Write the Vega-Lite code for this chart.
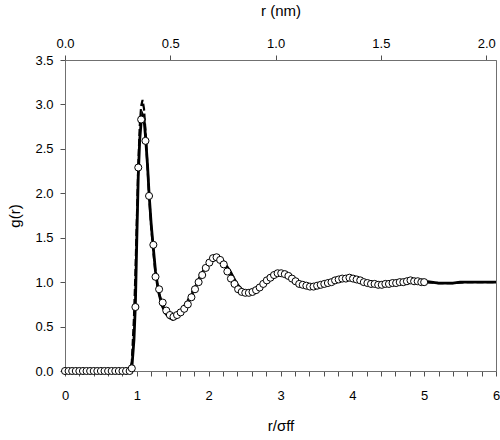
{
  "$schema": "https://vega.github.io/schema/vega-lite/v6.json",
  "width": 431,
  "height": 311,
  "autosize": {"type": "none"},
  "padding": {"left": 65, "top": 60, "right": 4, "bottom": 69},
  "config": {
    "font": "Liberation Sans",
    "view": {"stroke": "#707070", "strokeWidth": 1},
    "axis": {
      "grid": false,
      "domainColor": "#707070",
      "tickColor": "#505050",
      "labelColor": "#000000",
      "titleColor": "#000000",
      "labelFontSize": 13,
      "titleFontSize": 15,
      "titleFontWeight": "normal",
      "tickSize": 5,
      "labelFlush": false,
      "labelOverlap": false
    }
  },
  "datasets": {
    "circles": [
      {"r": 0, "g": 0}, {"r": 0.05, "g": 0}, {"r": 0.1, "g": 0}, {"r": 0.15, "g": 0}, {"r": 0.2, "g": 0},
      {"r": 0.25, "g": 0}, {"r": 0.3, "g": 0}, {"r": 0.35, "g": 0}, {"r": 0.4, "g": 0}, {"r": 0.45, "g": 0},
      {"r": 0.5, "g": 0}, {"r": 0.55, "g": 0}, {"r": 0.6, "g": 0}, {"r": 0.65, "g": 0}, {"r": 0.7, "g": 0},
      {"r": 0.75, "g": 0}, {"r": 0.8, "g": 0}, {"r": 0.85, "g": 0}, {"r": 0.9, "g": 0}, {"r": 0.93, "g": 0.03},
      {"r": 0.98, "g": 0.72}, {"r": 1.02, "g": 2.29}, {"r": 1.06, "g": 2.83}, {"r": 1.12, "g": 2.59},
      {"r": 1.17, "g": 1.97}, {"r": 1.23, "g": 1.42}, {"r": 1.26, "g": 1.06}, {"r": 1.31, "g": 0.92},
      {"r": 1.36, "g": 0.77}, {"r": 1.41, "g": 0.68}, {"r": 1.46, "g": 0.63}, {"r": 1.51, "g": 0.61},
      {"r": 1.56, "g": 0.63}, {"r": 1.61, "g": 0.66}, {"r": 1.66, "g": 0.7}, {"r": 1.71, "g": 0.75},
      {"r": 1.76, "g": 0.83}, {"r": 1.81, "g": 0.92}, {"r": 1.86, "g": 1.0}, {"r": 1.91, "g": 1.08},
      {"r": 1.96, "g": 1.16}, {"r": 2.01, "g": 1.22}, {"r": 2.06, "g": 1.27}, {"r": 2.11, "g": 1.28},
      {"r": 2.16, "g": 1.25}, {"r": 2.21, "g": 1.2}, {"r": 2.26, "g": 1.12}, {"r": 2.31, "g": 1.04},
      {"r": 2.36, "g": 0.98}, {"r": 2.41, "g": 0.92}, {"r": 2.46, "g": 0.89}, {"r": 2.51, "g": 0.88},
      {"r": 2.56, "g": 0.88}, {"r": 2.61, "g": 0.89}, {"r": 2.66, "g": 0.91}, {"r": 2.71, "g": 0.94},
      {"r": 2.76, "g": 0.98}, {"r": 2.81, "g": 1.02}, {"r": 2.86, "g": 1.05}, {"r": 2.91, "g": 1.08},
      {"r": 2.96, "g": 1.1}, {"r": 3.01, "g": 1.1}, {"r": 3.06, "g": 1.09}, {"r": 3.11, "g": 1.07},
      {"r": 3.16, "g": 1.04}, {"r": 3.21, "g": 1.01}, {"r": 3.26, "g": 0.98}, {"r": 3.31, "g": 0.97},
      {"r": 3.36, "g": 0.96}, {"r": 3.41, "g": 0.95}, {"r": 3.46, "g": 0.95}, {"r": 3.51, "g": 0.96},
      {"r": 3.56, "g": 0.97}, {"r": 3.61, "g": 0.98}, {"r": 3.66, "g": 0.99}, {"r": 3.71, "g": 1.0},
      {"r": 3.76, "g": 1.02}, {"r": 3.81, "g": 1.03}, {"r": 3.86, "g": 1.04}, {"r": 3.91, "g": 1.04},
      {"r": 3.96, "g": 1.05}, {"r": 4.01, "g": 1.04}, {"r": 4.06, "g": 1.03}, {"r": 4.11, "g": 1.02},
      {"r": 4.16, "g": 1.0}, {"r": 4.21, "g": 0.99}, {"r": 4.26, "g": 0.98}, {"r": 4.31, "g": 0.98},
      {"r": 4.36, "g": 0.97}, {"r": 4.41, "g": 0.97}, {"r": 4.46, "g": 0.98}, {"r": 4.51, "g": 0.98},
      {"r": 4.56, "g": 0.99}, {"r": 4.61, "g": 0.99}, {"r": 4.66, "g": 1.0}, {"r": 4.71, "g": 1.0},
      {"r": 4.76, "g": 1.01}, {"r": 4.81, "g": 1.02}, {"r": 4.86, "g": 1.01}, {"r": 4.91, "g": 1.01},
      {"r": 4.96, "g": 1.0}, {"r": 5.0, "g": 1.0}
    ],
    "solid": [
      {"r": 0, "g": 0}, {"r": 0.9, "g": 0}, {"r": 0.93, "g": 0.03}, {"r": 0.96, "g": 0.35},
      {"r": 0.98, "g": 0.75}, {"r": 1.0, "g": 1.5}, {"r": 1.02, "g": 2.2}, {"r": 1.04, "g": 2.6},
      {"r": 1.06, "g": 2.8}, {"r": 1.08, "g": 2.88}, {"r": 1.1, "g": 2.84}, {"r": 1.12, "g": 2.65},
      {"r": 1.15, "g": 2.3}, {"r": 1.17, "g": 2.0}, {"r": 1.2, "g": 1.65}, {"r": 1.23, "g": 1.38},
      {"r": 1.26, "g": 1.12}, {"r": 1.3, "g": 0.9}, {"r": 1.35, "g": 0.74}, {"r": 1.4, "g": 0.65},
      {"r": 1.45, "g": 0.6}, {"r": 1.5, "g": 0.58}, {"r": 1.55, "g": 0.6}, {"r": 1.6, "g": 0.64},
      {"r": 1.7, "g": 0.75}, {"r": 1.8, "g": 0.92}, {"r": 1.9, "g": 1.09}, {"r": 2.0, "g": 1.22},
      {"r": 2.1, "g": 1.28}, {"r": 2.2, "g": 1.24}, {"r": 2.3, "g": 1.12}, {"r": 2.4, "g": 0.97},
      {"r": 2.5, "g": 0.88}, {"r": 2.6, "g": 0.87}, {"r": 2.7, "g": 0.92}, {"r": 2.8, "g": 1.0},
      {"r": 2.9, "g": 1.07}, {"r": 3.0, "g": 1.1}, {"r": 3.1, "g": 1.08}, {"r": 3.2, "g": 1.03},
      {"r": 3.3, "g": 0.98}, {"r": 3.4, "g": 0.95}, {"r": 3.5, "g": 0.95}, {"r": 3.6, "g": 0.97},
      {"r": 3.7, "g": 1.0}, {"r": 3.8, "g": 1.03}, {"r": 3.9, "g": 1.04}, {"r": 4.0, "g": 1.04},
      {"r": 4.1, "g": 1.02}, {"r": 4.2, "g": 1.0}, {"r": 4.3, "g": 0.98}, {"r": 4.4, "g": 0.97},
      {"r": 4.5, "g": 0.98}, {"r": 4.6, "g": 0.99}, {"r": 4.7, "g": 1.0}, {"r": 4.8, "g": 1.01},
      {"r": 4.9, "g": 1.01}, {"r": 5.0, "g": 1.01}, {"r": 5.1, "g": 1.0}, {"r": 5.2, "g": 0.99},
      {"r": 5.3, "g": 0.99}, {"r": 5.4, "g": 0.99}, {"r": 5.5, "g": 1.0}, {"r": 5.6, "g": 1.0},
      {"r": 5.7, "g": 1.0}, {"r": 5.8, "g": 1.0}, {"r": 5.9, "g": 1.0}, {"r": 6.0, "g": 1.0}
    ],
    "dashed": [
      {"r": 0, "g": 0}, {"r": 0.9, "g": 0}, {"r": 0.93, "g": 0.1}, {"r": 0.96, "g": 0.6},
      {"r": 0.98, "g": 1.1}, {"r": 1.0, "g": 1.7}, {"r": 1.02, "g": 2.3}, {"r": 1.04, "g": 2.75},
      {"r": 1.06, "g": 2.98}, {"r": 1.08, "g": 3.05}, {"r": 1.1, "g": 2.95}, {"r": 1.12, "g": 2.7},
      {"r": 1.15, "g": 2.28}, {"r": 1.17, "g": 1.98}, {"r": 1.2, "g": 1.62}, {"r": 1.23, "g": 1.34},
      {"r": 1.26, "g": 1.1}, {"r": 1.3, "g": 0.9}, {"r": 1.35, "g": 0.76}, {"r": 1.4, "g": 0.68},
      {"r": 1.45, "g": 0.63}, {"r": 1.5, "g": 0.62}, {"r": 1.55, "g": 0.63}, {"r": 1.6, "g": 0.67},
      {"r": 1.7, "g": 0.78}, {"r": 1.8, "g": 0.94}, {"r": 1.9, "g": 1.1}, {"r": 2.0, "g": 1.22},
      {"r": 2.1, "g": 1.27}, {"r": 2.2, "g": 1.22}, {"r": 2.3, "g": 1.1}, {"r": 2.4, "g": 0.96},
      {"r": 2.5, "g": 0.89}, {"r": 2.6, "g": 0.88}, {"r": 2.7, "g": 0.93}, {"r": 2.8, "g": 1.01},
      {"r": 2.9, "g": 1.07}, {"r": 3.0, "g": 1.09}, {"r": 3.1, "g": 1.07}, {"r": 3.2, "g": 1.02},
      {"r": 3.3, "g": 0.98}, {"r": 3.4, "g": 0.96}, {"r": 3.5, "g": 0.96}, {"r": 3.6, "g": 0.98},
      {"r": 3.7, "g": 1.01}, {"r": 3.8, "g": 1.03}, {"r": 3.9, "g": 1.03}, {"r": 4.0, "g": 1.03},
      {"r": 4.1, "g": 1.01}, {"r": 4.2, "g": 0.99}, {"r": 4.3, "g": 0.98}, {"r": 4.4, "g": 0.98},
      {"r": 4.5, "g": 0.99}, {"r": 4.6, "g": 1.0}, {"r": 4.7, "g": 1.0}, {"r": 4.8, "g": 1.01},
      {"r": 4.9, "g": 1.01}, {"r": 5.0, "g": 1.0}, {"r": 5.2, "g": 0.99}, {"r": 5.4, "g": 0.99},
      {"r": 5.6, "g": 1.0}, {"r": 5.8, "g": 1.0}, {"r": 6.0, "g": 1.0}
    ],
    "nmAxis": [{"nm": 0}, {"nm": 2.0465}]
  },
  "layer": [
    {
      "encoding": {
        "x": {
          "field": "r",
          "type": "quantitative",
          "scale": {"domain": [0, 6], "nice": false},
          "axis": {
            "title": "r/σff",
            "values": [0, 0.2, 0.4, 0.6, 0.8, 1, 1.2, 1.4, 1.6, 1.8, 2, 2.2, 2.4, 2.6, 2.8, 3, 3.2, 3.4, 3.6, 3.8, 4, 4.2, 4.4, 4.6, 4.8, 5, 5.2, 5.4, 5.6, 5.8, 6],
            "format": ".1f",
            "labelExpr": "slice(datum.label, -1) == '0' ? slice(datum.label, 0, -2) : ''",
            "labelOverlap": false,
            "labelPadding": 13,
            "titlePadding": 16
          }
        },
        "y": {
          "field": "g",
          "type": "quantitative",
          "scale": {"domain": [0, 3.5], "nice": false},
          "axis": {
            "title": "g(r)",
            "values": [0, 0.5, 1, 1.5, 2, 2.5, 3, 3.5],
            "format": ".1f",
            "labelPadding": 7,
            "titlePadding": 12
          }
        }
      },
      "layer": [
        {
          "data": {"name": "solid"},
          "mark": {"type": "line", "color": "#000000", "strokeWidth": 2.8}
        },
        {
          "data": {"name": "dashed"},
          "mark": {"type": "line", "color": "#000000", "strokeWidth": 2.2, "strokeDash": [7, 3]}
        },
        {
          "data": {"name": "circles"},
          "mark": {"type": "point", "shape": "circle", "filled": false, "fill": "#ffffff", "fillOpacity": 1, "stroke": "#000000", "strokeWidth": 1, "size": 50, "opacity": 1}
        }
      ]
    },
    {
      "data": {"name": "nmAxis"},
      "mark": {"type": "rule", "opacity": 0},
      "encoding": {
        "x": {
          "field": "nm",
          "type": "quantitative",
          "scale": {"domain": [0, 2.0465], "nice": false, "zero": false},
          "axis": {
            "orient": "top",
            "title": "r (nm)",
            "values": [0, 0.5, 1, 1.5, 2],
            "format": ".1f",
            "labelPadding": 5,
            "titlePadding": 19
          }
        }
      }
    }
  ],
  "resolve": {"scale": {"x": "independent"}, "axis": {"x": "independent"}}
}
